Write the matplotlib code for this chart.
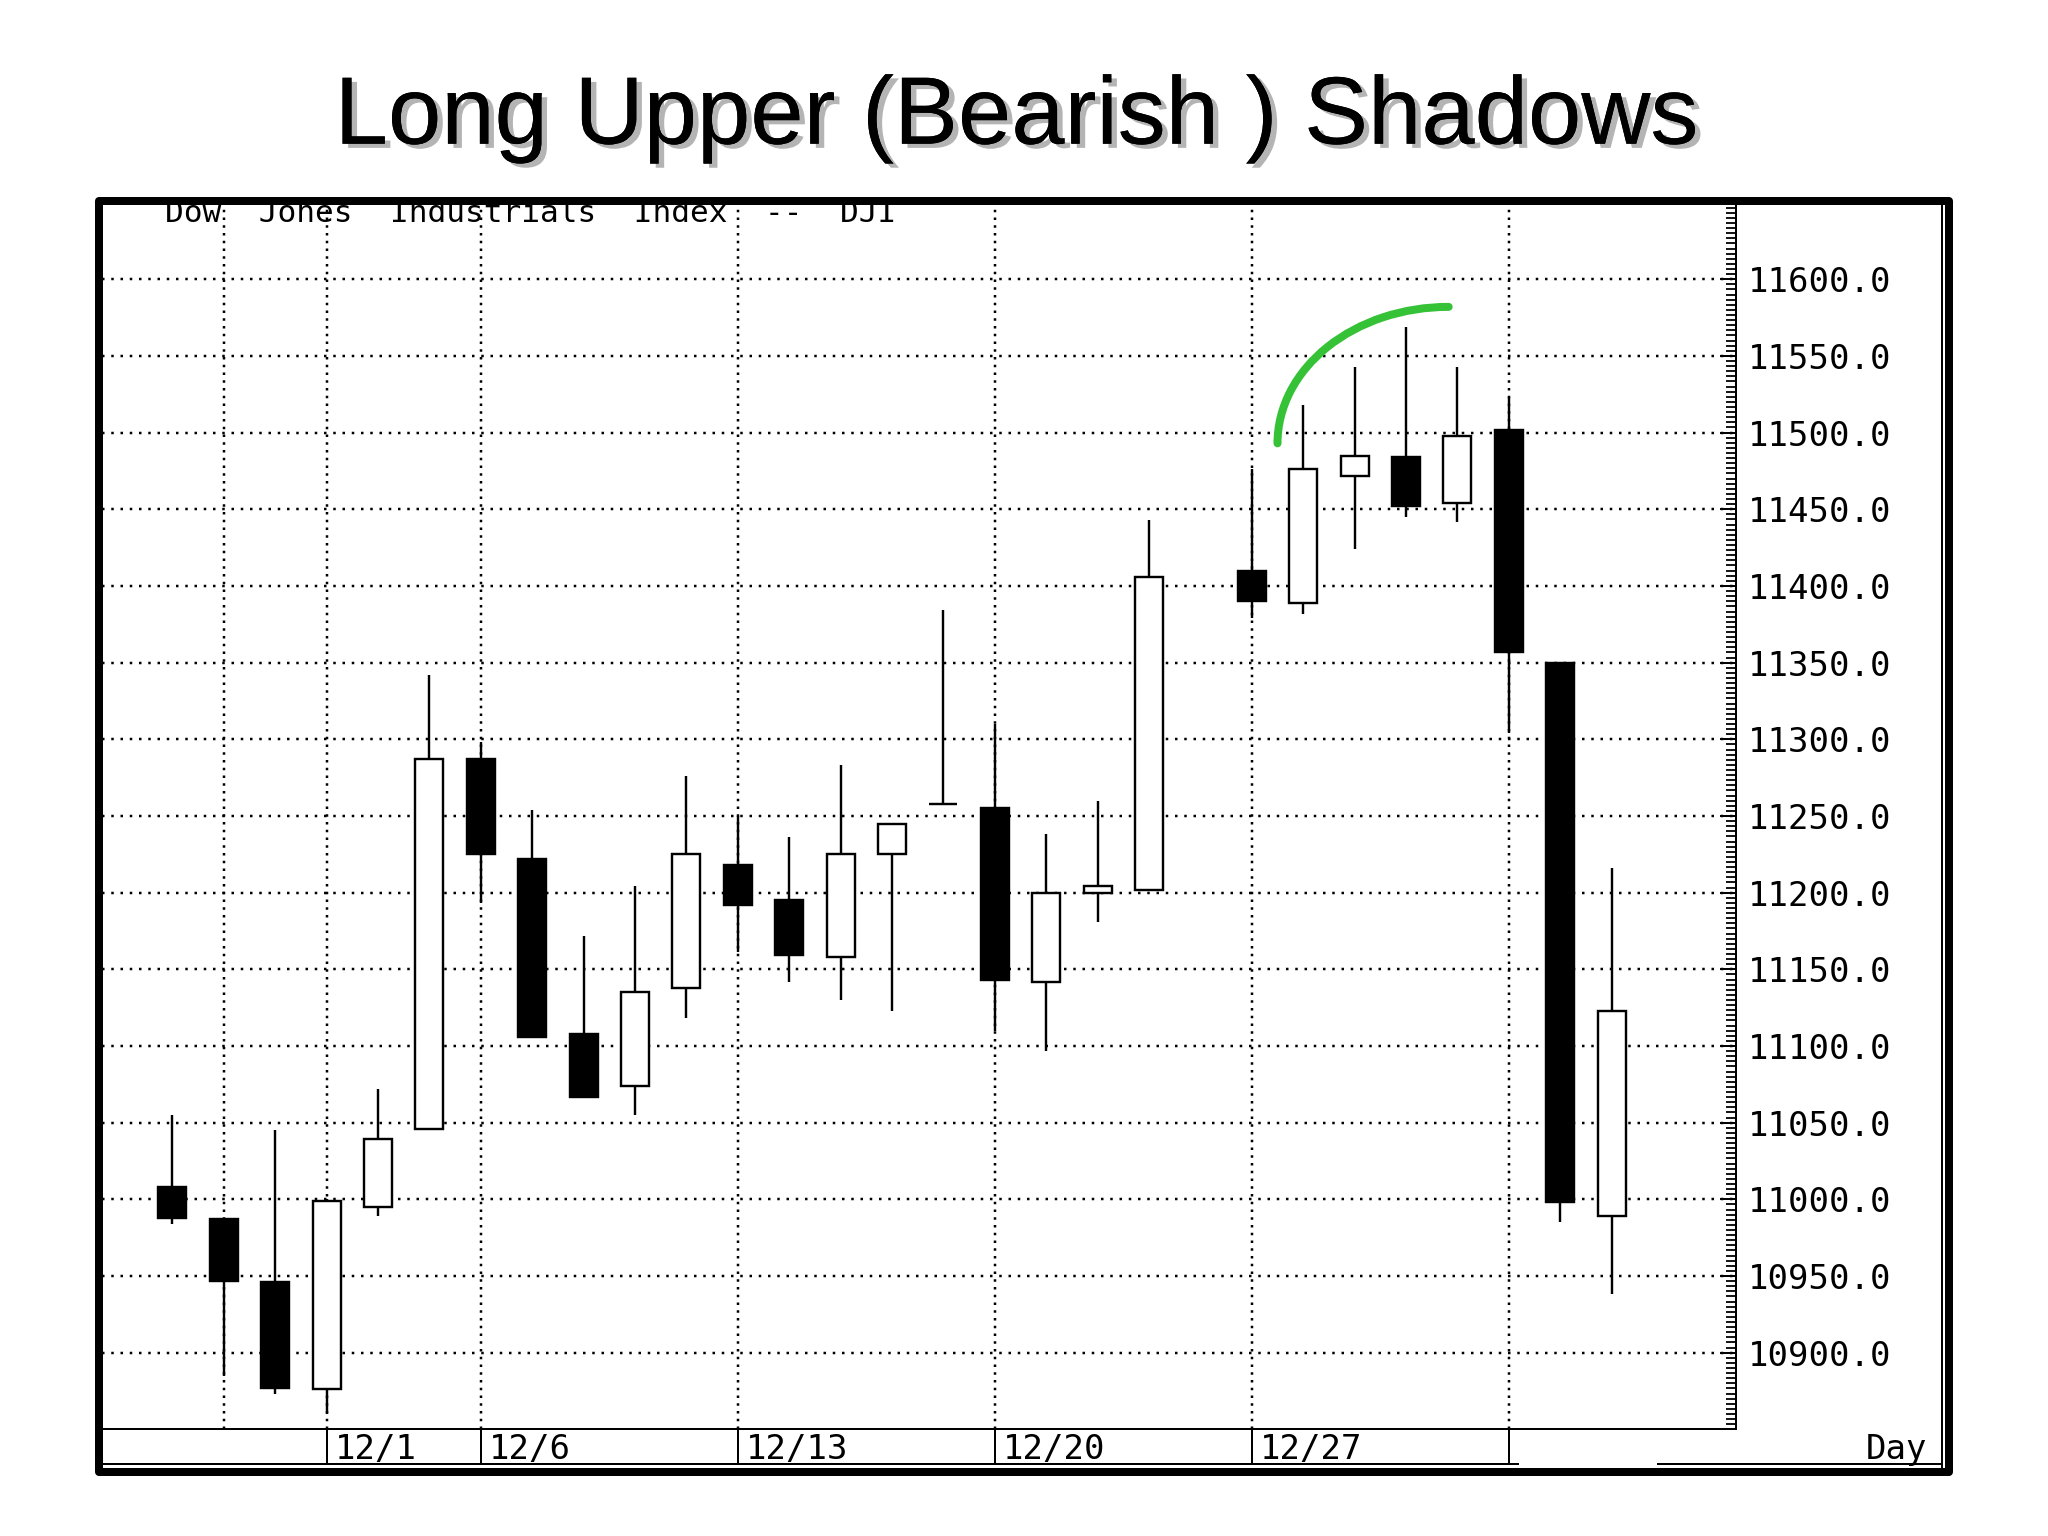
import matplotlib
matplotlib.use("Agg")
import matplotlib.pyplot as plt
import matplotlib.patheffects as pe
from matplotlib.patches import Rectangle, Arc
from matplotlib.lines import Line2D
from matplotlib.ticker import MultipleLocator, FormatStrFormatter

# --- data (x = trading-day index, 20 = holiday gap) ---
days = [0, 1, 2, 3, 4, 5, 6, 7, 8, 9, 10, 11, 12, 13, 14, 15, 16, 17, 18, 19,
        21, 22, 23, 24, 25, 26, 27, 28]
opens = [11008, 10987, 10946, 10876, 10995, 11046, 11287, 11222, 11108, 11074,
         11138, 11218, 11195, 11158, 11225, 11258, 11255, 11142, 11200, 11202,
         11410, 11389, 11472, 11484, 11454, 11502, 11350, 10989]
highs = [11055, 10988, 11045, 11000, 11072, 11342, 11298, 11254, 11172, 11204,
         11276, 11250, 11236, 11283, 11245, 11384, 11310, 11238, 11260, 11443,
         11476, 11518, 11543, 11569, 11543, 11523, 11350, 11216]
lows = [10984, 10885, 10873, 10860, 10989, 11045, 11193, 11105, 11066, 11055,
        11118, 11161, 11142, 11130, 11123, 11258, 11110, 11097, 11181, 11202,
        11379, 11382, 11424, 11445, 11442, 11304, 10985, 10938]
closes = [10988, 10947, 10877, 10999, 11039, 11287, 11225, 11106, 11067, 11135,
          11225, 11192, 11159, 11225, 11245, 11258, 11143, 11200, 11204, 11406,
          11390, 11476, 11485, 11452, 11498, 11357, 10998, 11123]

date_pos = [3, 6, 11, 16, 21, 26]
date_labels = ["12/1", "12/6", "12/13", "12/20", "12/27", "1/3"]
vgrid_pos = [1, 3, 6, 11, 16, 21, 26]
price_levels = list(range(10900, 11601, 50))

# green highlight arc over the long upper shadows (center, radii)
arc_center = (24.83, 11493)
arc_radii = (3.33, 89)

# --- layout (pixels of the 2048x1536 picture) ---
W, H = 2048, 1536
PT = 0.72  # points per pixel at dpi 100
X0_PX, STEP_PX = 172.4, 51.4  # pixel of day 0, pixels per day
AX_L, AX_R, AX_T, AX_B = 102, 1736, 202.6, 1429.3
STRIP_R, STRIP_B = 1942, 1464


def to_idx(px):
    return (px - X0_PX) / STEP_PX


plt.rcParams["font.family"] = ["DejaVu Sans Mono", "DejaVu Sans"]
fig = plt.figure(figsize=(W / 100, H / 100), dpi=100, facecolor="white")

ax = fig.add_axes([AX_L / W, 1 - AX_B / H, (AX_R - AX_L) / W, (AX_B - AX_T) / H])
ax.set_xlim(to_idx(AX_L), to_idx(AX_R))
ax.set_ylim(10850, 11650)

# dotted grid
for v in price_levels:
    ax.axhline(v, color="black", lw=2.5 * PT, ls=(0, (1, 2.7)), zorder=1)
for g in vgrid_pos:
    ax.axvline(g, color="black", lw=2.5 * PT, ls=(0, (1, 2.1)), zorder=1)

# candles
body_low = [min(o, c) for o, c in zip(opens, closes)]
body_h = [max(abs(c - o), 0.01) for o, c in zip(opens, closes)]
fills = ["white" if c >= o else "black" for o, c in zip(opens, closes)]
ax.vlines(days, lows, highs, color="black", lw=2.4 * PT, zorder=3)
ax.bar(days, body_h, bottom=body_low, width=0.545, color=fills,
       edgecolor="black", linewidth=2.4 * PT, zorder=4)

ax.add_patch(Arc(arc_center, 2 * arc_radii[0], 2 * arc_radii[1], theta1=90, theta2=180,
                 color="#36c236", lw=8 * PT, capstyle="round", zorder=6))

# axes cosmetics
for s in ["left", "top"]:
    ax.spines[s].set_visible(False)
for s in ["right", "bottom"]:
    ax.spines[s].set_linewidth(2 * PT)
ax.set_xticks([])
ax.yaxis.tick_right()
ax.set_yticks(price_levels)
ax.yaxis.set_major_formatter(FormatStrFormatter("%.1f"))
ax.yaxis.set_minor_locator(MultipleLocator(50 / 15))
ax.tick_params(axis="y", which="major", direction="in", length=16 * PT,
               width=2 * PT, pad=12 * PT, labelsize=24.5)
ax.tick_params(axis="y", which="minor", direction="in", length=10 * PT, width=1.8 * PT)

ax.text((165 - AX_L) / (AX_R - AX_L), (AX_B - 222) / (AX_B - AX_T),
        "Dow  Jones  Industrials  Index  --  DJI", transform=ax.transAxes,
        ha="left", va="baseline", fontsize=22.4, clip_on=True, zorder=7)

# date strip under the chart
strip = fig.add_axes([AX_L / W, 1 - STRIP_B / H, (STRIP_R - AX_L) / W, (STRIP_B - AX_B) / H])
strip.set_xlim(to_idx(AX_L), to_idx(STRIP_R))
strip.set_ylim(0, 1)
strip.axis("off")
strip.vlines(date_pos, 0, 1, color="black", lw=2 * PT)
strip.axhline(0, color="black", lw=2 * PT, clip_on=False)
for p, lbl in zip(date_pos, date_labels):
    strip.text(p + 8 / STEP_PX, 0.42, lbl, ha="left", va="center", fontsize=24.5)
strip.text((1927 - AX_L) / (STRIP_R - AX_L), 0.42, "Day", transform=strip.transAxes,
           ha="right", va="center", fontsize=24.5)

# white patch cut into the strip, right edge line and heavy outer frame
fig.add_artist(Rectangle((1519 / W, 1 - 1467 / H), (1657 - 1519) / W, 37 / H,
                         transform=fig.transFigure, facecolor="white", edgecolor="none", zorder=5))
fig.add_artist(Line2D([STRIP_R / W] * 2, [1 - 205 / H, 1 - 1468 / H], color="black",
                      lw=2 * PT, transform=fig.transFigure, zorder=6))
fig.add_artist(Rectangle((99 / W, 1 - 1472 / H), (1949 - 99) / W, (1472 - 201) / H,
                         transform=fig.transFigure, facecolor="none", edgecolor="black",
                         lw=8 * PT, joinstyle="round", zorder=7))

# title with drop shadow
fig.text(1017 / W, 1 - 143.7 / H, "Long Upper (Bearish ) Shadows", ha="center", va="baseline",
         fontsize=69, family=["Liberation Sans", "DejaVu Sans"],
         path_effects=[pe.withSimplePatchShadow(offset=(4, -3), shadow_rgbFace="#b4b4b4", alpha=1.0),
                       pe.Normal()])

fig.savefig("out.png", dpi=100, facecolor="white")
